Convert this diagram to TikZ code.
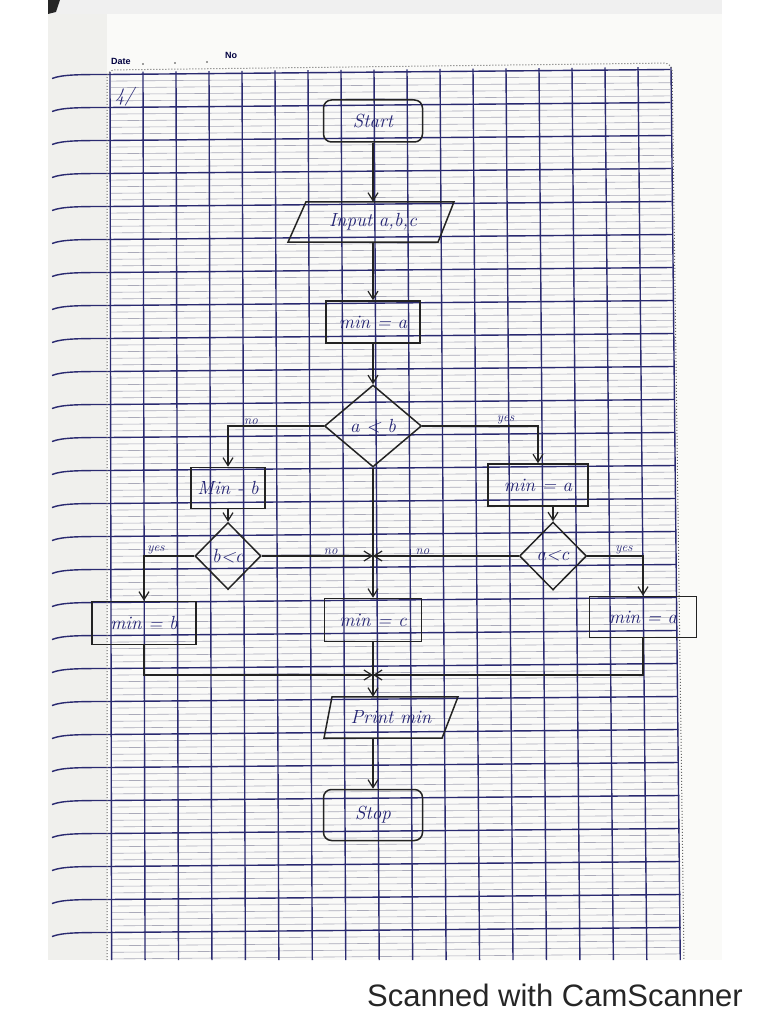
\documentclass[tikz,border=0pt]{standalone}
\usepackage{fontspec}
\usetikzlibrary{shapes.geometric,arrows.meta,calc}
\newfontfamily\camfont{Liberation Sans}
\definecolor{ink}{RGB}{35,35,115}
\definecolor{pen}{RGB}{35,35,35}
\definecolor{gridblue}{RGB}{42,42,112}
\definecolor{thinln}{RGB}{170,170,185}
\definecolor{paper}{RGB}{250,250,248}
\definecolor{marginbg}{RGB}{240,240,237}
\begin{document}
\begin{tikzpicture}[x=1pt,y=-1pt,
  hand/.style={text=ink,font=\fontsize{19}{22}\selectfont\itshape},
  lbl/.style={text=ink,font=\fontsize{13}{15}\selectfont\itshape,inner sep=1pt},
  proc/.style={draw=pen,line width=1.5pt,rectangle,inner sep=0pt,hand},
  term/.style={proc,rounded corners=8pt},
  io/.style={rectangle,inner sep=0pt,hand},
  dec/.style={draw=pen,line width=1.5pt,diamond,inner sep=0pt,hand},
  flow/.style={draw=pen,line width=1.5pt},
  arr/.style={flow,-{Straight Barb[length=8pt,width=10pt,line width=1.2pt]}},
  gridline/.style={draw=gridblue,line width=1.4pt},
  thinline/.style={draw=thinln,line width=0.6pt},
]
\useasboundingbox (0,0) rectangle (768,1024);
% paper
\fill[white] (0,0) rectangle (768,1024);
\fill[black!6] (48,0) rectangle (722,14);
\fill[black!85] (48,0) -- (60,0) -- (56,12) -- (48,14) -- cycle;
\fill[paper] (48,14) rectangle (722,960);
\fill[marginbg] (48,14) rectangle (107,960);
% thin ruling
\foreach \k in {0,...,26} {
  \pgfmathsetmacro{\yy}{74.5+33*\k}
  \pgfmathsetmacro{\xr}{670+0.42*\k}
  \foreach \j in {1,...,4} {
    \draw[thinline] (111,\yy+6.6*\j) -- (\xr,\yy+6.6*\j-5);
  }
}
% thick horizontal ruling
\foreach \k in {0,...,26} {
  \pgfmathsetmacro{\yy}{74.5+33*\k}
  \pgfmathsetmacro{\xr}{670+0.42*\k}
  \draw[gridline] (52,\yy+4) .. controls (62,\yy) and (80,\yy) .. (108,\yy) -- (\xr,\yy-5);
}
% vertical ruling
\foreach \i in {0,...,17} {
  \draw[gridline] (110+33*\i,72-0.3*\i) -- (111.6+33.45*\i,960);
}
% dotted border
\draw[black!60,dotted,line width=1pt,rounded corners=8pt] (107,960) -- (107,70) -- (672,63) -- (684,960);
% header
\node[anchor=base west,font=\camfont\bfseries\fontsize{9}{10}\selectfont,text=black!75!blue,inner sep=0pt] (date) at (111,65) {Date};
\node[anchor=base west,font=\camfont\bfseries\fontsize{9}{10}\selectfont,text=black!75!blue,inner sep=0pt] (no) at (225,59) {No};
\fill[black!75] (143,64) circle (0.9) (175,63) circle (0.9) (207,62) circle (0.9);
\node[hand,anchor=base west,inner sep=0pt] (qnum) at (115,102) {4/};
% flowchart
\node[term,minimum width=99pt,minimum height=42pt] (start) at (373,121) {Start};
\node[io,minimum width=150pt,minimum height=40pt] (input) at (373,222) {Input a,b,c};
\draw[flow] ([xshift=-85pt]input.south) -- ([xshift=-67pt]input.north) -- ([xshift=81pt]input.north) -- ([xshift=65pt]input.south) -- cycle;
\node[proc,minimum width=94pt,minimum height=42pt] (mina) at (373,322) {min = a};
\node[dec,minimum width=97pt,minimum height=82pt] (ab) at (373,426) {a < b};
\node[proc,minimum width=74pt,minimum height=41pt] (minb1) at (228,488) {Min - b};
\node[proc,minimum width=100pt,minimum height=42pt] (mina1) at (538,485) {min = a};
\node[dec,minimum width=66pt,minimum height=67pt] (bc) at (228,556) {b<c};
\node[dec,minimum width=67pt,minimum height=68pt] (ac) at (553,556) {a<c};
\coordinate (j1) at (373,556);
\node[proc,minimum width=104pt,minimum height=43pt] (minb2) at (144,623) {min = b};
\node[proc,minimum width=97pt,minimum height=43pt] (minc) at (373,620) {min = c};
\node[proc,minimum width=107pt,minimum height=41pt] (mina2) at (643,617) {min = a};
\coordinate (j2) at (373,675);
\node[io,minimum width=118pt,minimum height=41pt] (print) at (391,717.5) {Print min};
\draw[flow] ([xshift=-67pt]print.south) -- ([xshift=-59pt]print.north) -- ([xshift=67pt]print.north) -- ([xshift=51pt]print.south) -- cycle;
\node[term,minimum width=99pt,minimum height=51pt] (stop) at (373,815) {Stop};
% connectors
\draw[arr] (start.south) -- (input.north);
\draw[arr] (input.south) -- (mina.north);
\draw[arr] (mina.south) -- (ab.north);
\draw[arr] (ab.west) -| node[lbl,pos=0.38,above]{no} (minb1.north);
\draw[arr] (ab.east) -| node[lbl,pos=0.36,above]{yes} (mina1.north);
\draw[arr] (minb1.south) -- (bc.north);
\draw[arr] (mina1.south -| ac.north) -- (ac.north);
\draw[arr] (bc.east) -- node[lbl,pos=0.62,above]{no} (j1);
\draw[arr] (ac.west) -- node[lbl,pos=0.66,above]{no} (j1);
\draw[flow] (ab.south) -- (j1);
\draw[arr] (j1) -- (minc.north);
\draw[arr] (bc.west) -| node[lbl,pos=0.38,above]{yes} (minb2.north);
\draw[arr] (ac.east) -| node[lbl,pos=0.33,above]{yes} (mina2.north);
\draw[arr] (minb2.south) |- (j2);
\draw[arr] (mina2.south) |- (j2);
\draw[flow] (minc.south) -- (j2);
\draw[arr] (j2) -- (j2 |- print.north);
\draw[arr] (stop |- print.south) -- (stop.north);
% footer
\node[anchor=base west,font=\camfont\fontsize{31}{34}\selectfont,text=black!85,inner sep=0pt] (cam) at (367,1006) {Scanned with CamScanner};
\end{tikzpicture}
\end{document}
